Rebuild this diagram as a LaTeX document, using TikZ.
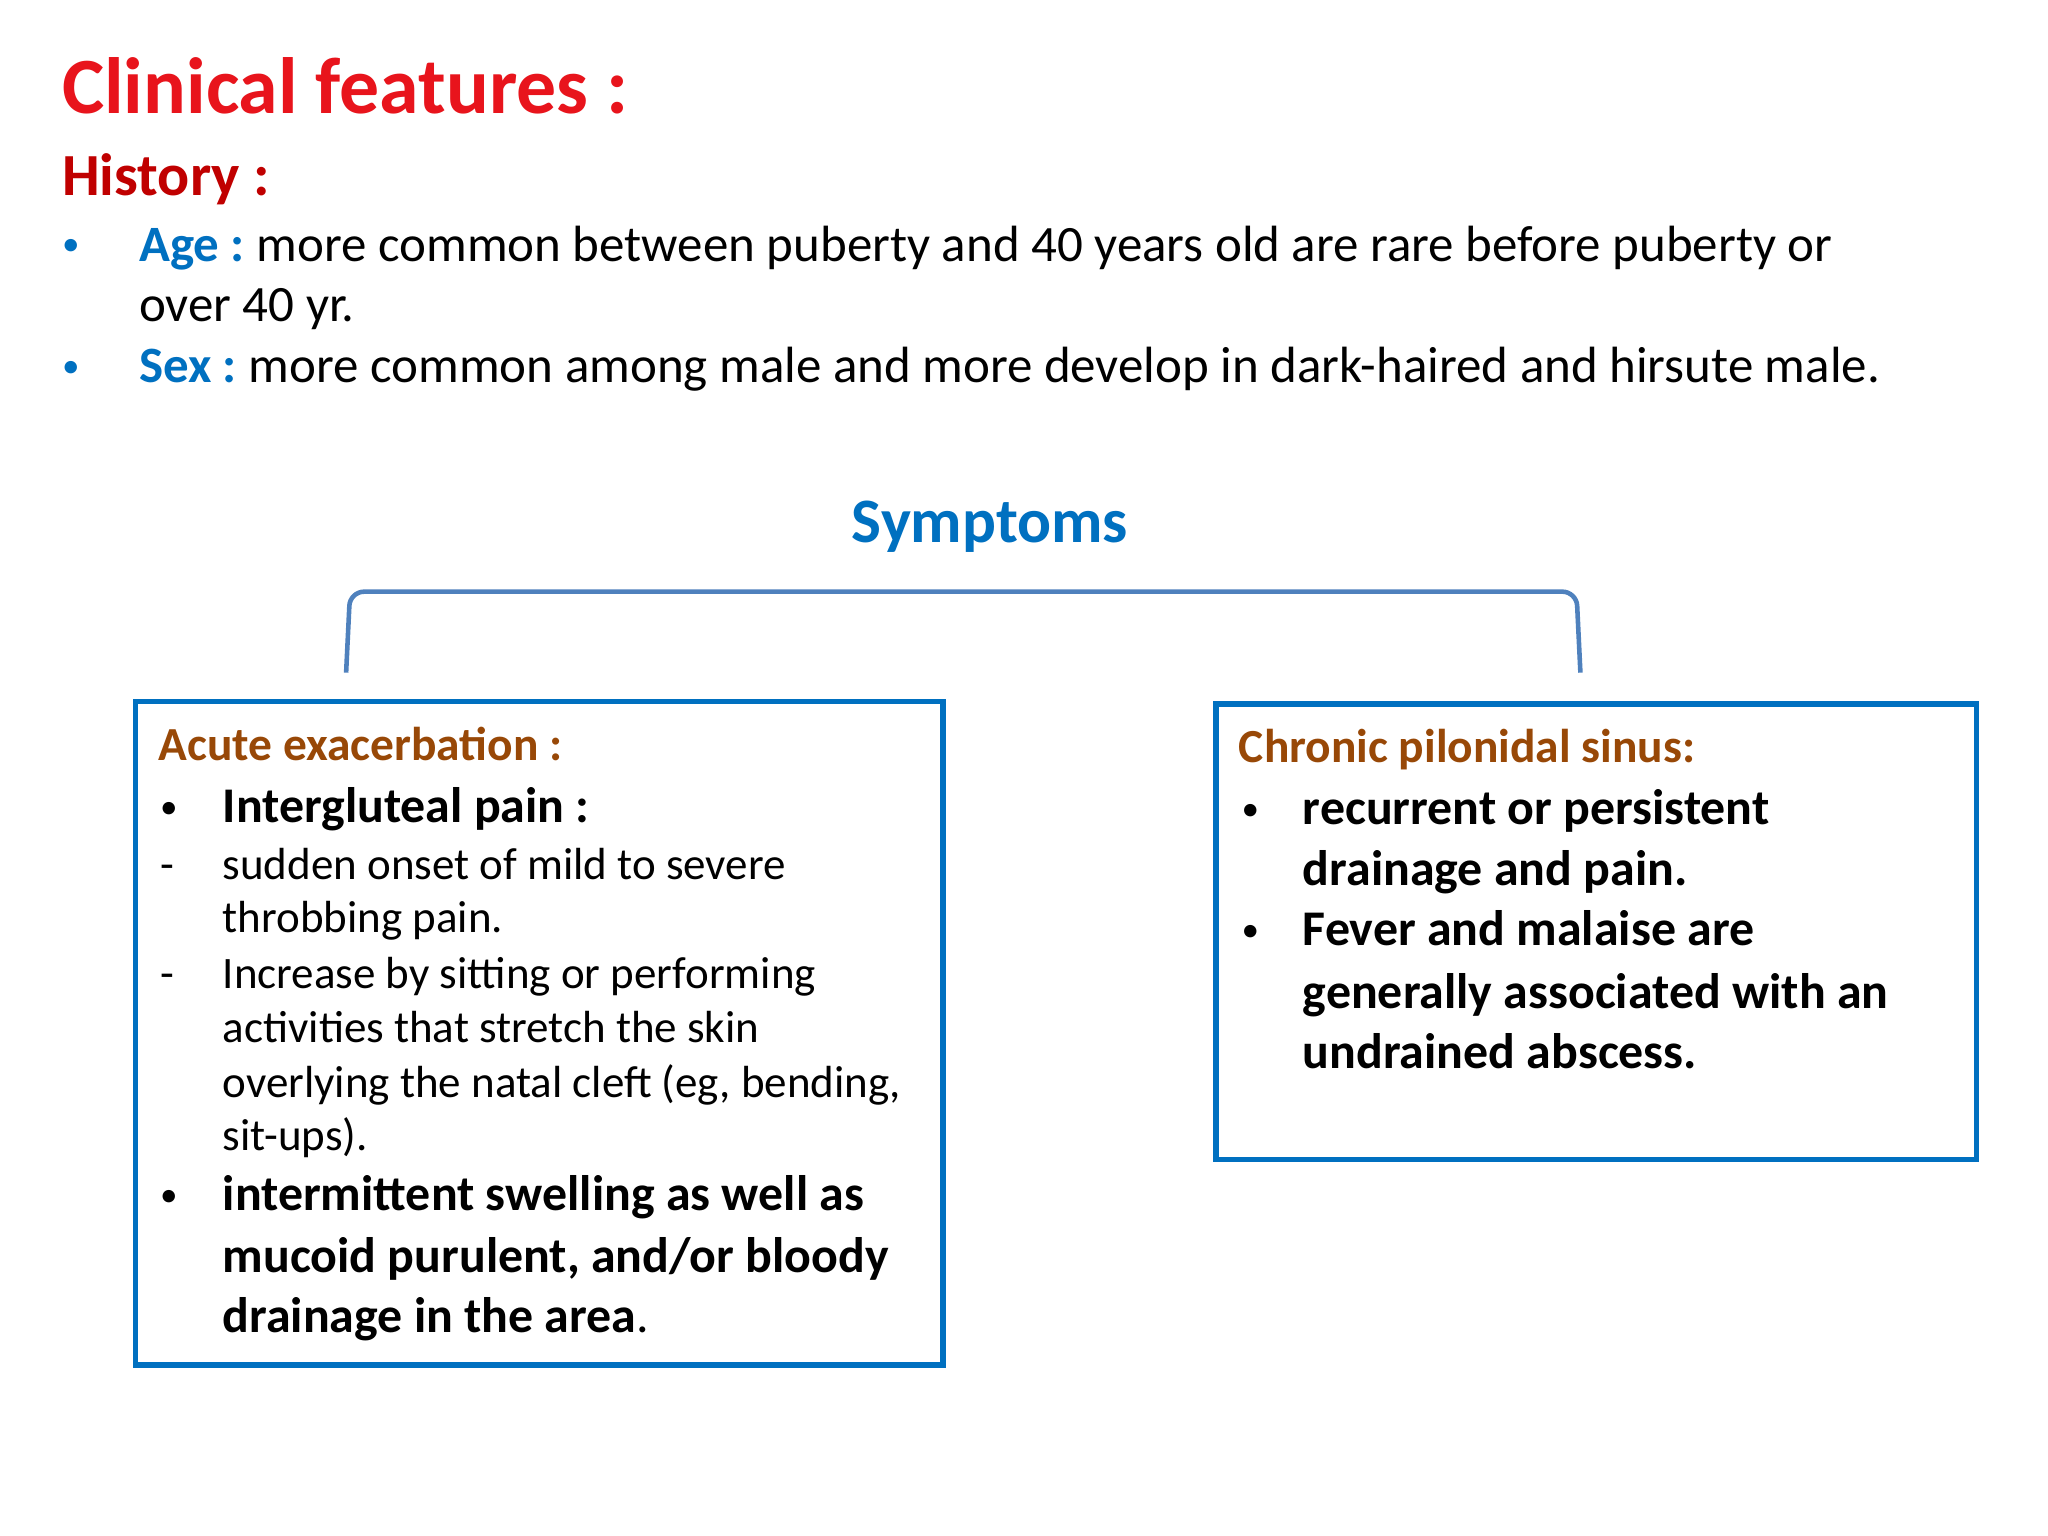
\documentclass[tikz,border=0pt]{standalone}
\usepackage{fontspec}
\setmainfont{Carlito}
\definecolor{tred}{HTML}{E8141C}
\definecolor{dred}{HTML}{C00000}
\definecolor{tblue}{HTML}{0070C0}
\definecolor{brown}{HTML}{984807}
\definecolor{steel}{HTML}{4F81BD}
\begin{document}
\begin{tikzpicture}[x=0.01306cm,y=-0.01306cm,
 t/.style={anchor=base west,inner sep=0pt,font=\fontsize{14.5}{17}\selectfont},
 bt/.style={t,font=\fontsize{14.2}{17}\selectfont\bfseries},
 st/.style={t,font=\fontsize{12.8}{15}\selectfont},
 bul/.style={anchor=base west,inner sep=0pt,font=\fontsize{10}{12}\selectfont},
 hd/.style={t,font=\fontsize{13.5}{16}\selectfont\bfseries,text=brown},
 box/.style={draw=tblue,line width=1.5pt}]
\useasboundingbox (0,0) rectangle (1568,1176);
\fill[white] (0,0) rectangle (1568,1176);
\node[t,font=\fontsize{22.7}{27}\selectfont\bfseries,text=tred] (title) at (47,87) {Clinical features :};
\node[t,font=\fontsize{17}{20}\selectfont\bfseries,text=dred] (hist) at (47,150) {History :};
\node[bul,text=tblue] (b1) at (47,196) {•};
\node[t] (age) at (106,200) {\textcolor{tblue}{\bfseries Age :}\hspace{-1pt} more common between puberty and 40 years old are rare before puberty or};
\node[t] (age2) at (106,246) {over 40 yr.};
\node[bul,text=tblue] (b2) at (47,289) {•};
\node[t] (sex) at (106,293) {\textcolor{tblue}{\bfseries Sex :}\hspace{-1pt} more common among male and more develop in dark-haired and hirsute male.};
\node[anchor=base,inner sep=0pt,font=\fontsize{18}{21}\selectfont\bfseries,text=tblue] (sym) at (758,415) {Symptoms};
\coordinate (l) at (265,515);
\coordinate (r) at (1210,515);
\draw[steel,line width=1.3pt,rounded corners=4] (l) -- (268,453) -- (1207,453) -- (r);
\draw[box] (104,537) rectangle (722,1045);
\draw[box] (931,539) rectangle (1513,888);
\node[hd] (ah) at (121,582) {Acute exacerbation :};
\node[bul] at (122,627) {•};
\node[bt] at (170,630) {Intergluteal pain :};
\node[st] at (122,673) {-};
\node[st] at (170,673) {sudden onset of mild to severe};
\node[st] at (170,714) {throbbing pain.};
\node[st] at (122,757) {-};
\node[st] at (170,757) {Increase by sitting or performing};
\node[st] at (170,798) {activities that stretch the skin};
\node[st] at (170,840) {overlying the natal cleft (eg, bending,};
\node[st] at (170,881) {sit-ups).};
\node[bul] at (122,924) {•};
\node[bt] at (170,927) {intermittent swelling as well as};
\node[bt] at (170,974) {mucoid purulent, and/or bloody};
\node[bt] at (170,1020) {drainage in the area\mdseries.};
\node[hd] (ch) at (948,584) {Chronic pilonidal sinus:};
\node[bul] at (950,628) {•};
\node[bt] at (997,631) {recurrent or persistent};
\node[bt] at (997,678) {drainage and pain.};
\node[bul] at (950,721) {•};
\node[bt] at (997,724) {Fever and malaise are};
\node[bt] at (997,772) {generally associated with an};
\node[bt] at (997,818) {undrained abscess.};
\end{tikzpicture}
\end{document}
